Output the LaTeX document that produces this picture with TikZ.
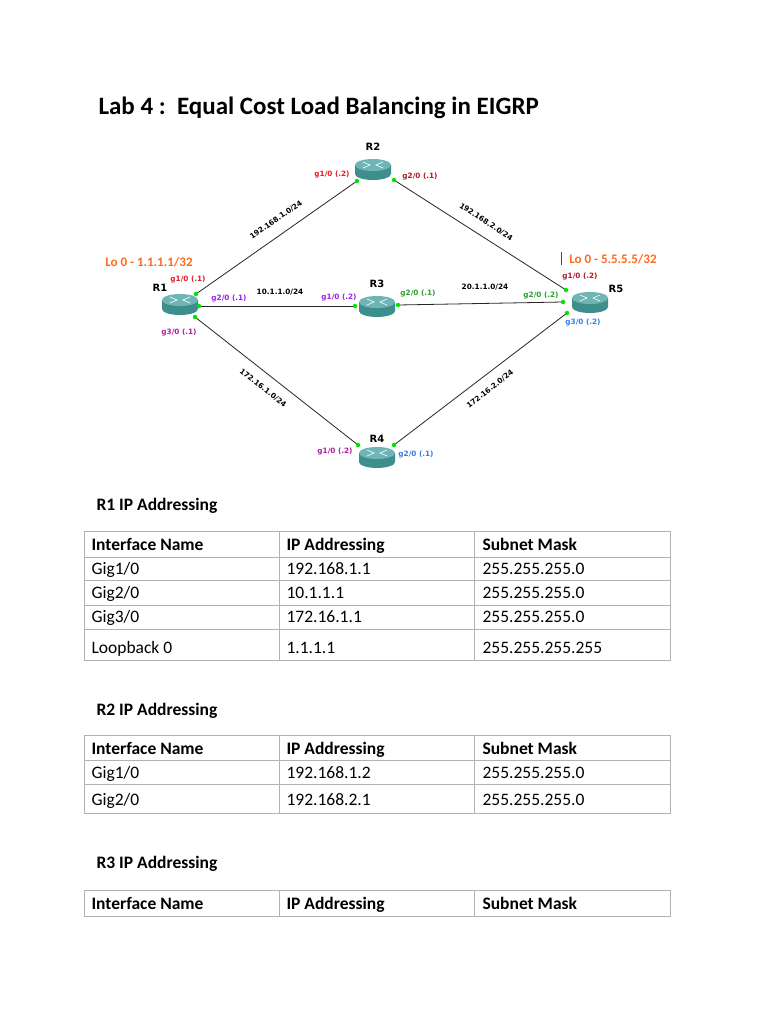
\documentclass[tikz,border=0pt]{standalone}
\usepackage{fontspec}
\setmainfont{Carlito}
\newfontfamily\dv{DejaVu Sans}
\begin{document}
\begin{tikzpicture}[x=1pt,y=-1pt,
  rt/.style={inner sep=0pt,minimum width=36pt,minimum height=22pt},
  rname/.style={font=\dv\bfseries\fontsize{10}{11}\selectfont},
  ifl/.style={font=\dv\bfseries\fontsize{7.3}{8}\selectfont,inner sep=1pt},
  net/.style={font=\dv\bfseries\fontsize{7.3}{8}\selectfont,text=black,inner sep=1pt},
  lo/.style={font=\bfseries\fontsize{13}{14}\selectfont,text=loc},
  lk/.style={black!85,line width=0.8pt},
  dot/.style={circle,fill=green!90!black,inner sep=0pt,minimum size=4.5pt},
  hd/.style={font=\bfseries\fontsize{17.5}{18}\selectfont,anchor=west},
  cell/.style={font=\fontsize{17.5}{18}\selectfont,anchor=base west},
  hcell/.style={font=\bfseries\fontsize{17.5}{18}\selectfont,anchor=base west},
  grd/.style={gray!60,line width=0.8pt}]
\definecolor{loc}{HTML}{FF6A1F}
\definecolor{ired}{HTML}{E0202A}
\definecolor{idred}{HTML}{B01C24}
\definecolor{ipur}{HTML}{A020F0}
\definecolor{imag}{HTML}{B0209A}
\definecolor{igrn}{HTML}{2CA02C}
\definecolor{iblu}{HTML}{2F7FEF}
\definecolor{teal1}{HTML}{3E8E8E}
\definecolor{teal2}{HTML}{6FB5B5}
\useasboundingbox (0,0) rectangle (768,1024);
\fill[white] (0,0) rectangle (768,1024);

\node[anchor=west,font=\bfseries\fontsize{25}{27}\selectfont] (title) at (95,108) {Lab 4 :\ \ Equal Cost Load Balancing in EIGRP};

\newcommand{\router}[2]{%
 \node[rt] (#1) at (#2) {};
 \begin{scope}[shift={(#2)}]
 \fill[teal1] (-18,-4) -- (-18,5) arc[start angle=180,end angle=0,x radius=18,y radius=6] -- (18,-4) -- cycle;
 \fill[teal2] (0,-4) ellipse[x radius=18,y radius=6];
 \draw[white,line width=0.6pt] (-10,-7) -- (-3,-4) -- (-10,-1) (10,-7) -- (3,-4) -- (10,-1);
 \end{scope}}

% links
\coordinate (p1a) at (196,294); \coordinate (p1b) at (199,306); \coordinate (p1c) at (195,317);
\coordinate (p2a) at (357,181); \coordinate (p2b) at (394,180);
\coordinate (p3a) at (355,306); \coordinate (p3b) at (398,305);
\coordinate (p4a) at (358,445); \coordinate (p4b) at (394,445);
\coordinate (p5a) at (566,290); \coordinate (p5b) at (563,302); \coordinate (p5c) at (567,313);
\draw[lk] (p1a) -- (p2a);
\draw[lk] (p2b) -- (p5a);
\draw[lk] (p1b) -- (p3a);
\draw[lk] (p3b) -- (p5b);
\draw[lk] (p1c) -- (p4a);
\draw[lk] (p4b) -- (p5c);

\router{R1}{180,304}
\router{R2}{373,169}
\router{R3}{377,306}
\router{R4}{377,457}
\router{R5}{590,302}

\foreach \p in {p1a,p1b,p1c,p2a,p2b,p3a,p3b,p4a,p4b,p5a,p5b,p5c} \node[dot] at (\p) {};

\node[rname] (n1) at (160,288) {R1};
\node[rname] (n2) at (373,147) {R2};
\node[rname] (n3) at (377,284) {R3};
\node[rname] (n4) at (377,439) {R4};
\node[rname] (n5) at (616,289) {R5};

\node[ifl,text=ired] (l1a) at (188,280) {g1/0 (.1)};
\node[ifl,text=ipur] (l1b) at (229,299) {g2/0 (.1)};
\node[ifl,text=imag] (l1c) at (179,333) {g3/0 (.1)};
\node[ifl,text=ired] (l2a) at (332,175) {g1/0 (.2)};
\node[ifl,text=idred] (l2b) at (420,177) {g2/0 (.1)};
\node[ifl,text=ipur] (l3a) at (339,298) {g1/0 (.2)};
\node[ifl,text=igrn] (l3b) at (418,294) {g2/0 (.1)};
\node[ifl,text=idred] (l5a) at (580,277) {g1/0 (.2)};
\node[ifl,text=igrn] (l5b) at (541,296) {g2/0 (.2)};
\node[ifl,text=iblu] (l5c) at (583,323) {g3/0 (.2)};
\node[ifl,text=imag] (l4a) at (335,452) {g1/0 (.2)};
\node[ifl,text=iblu] (l4b) at (416,455) {g2/0 (.1)};

\node[lo] (lo1) at (149,262) {Lo 0 - 1.1.1.1/32};
\node[lo] (lo5) at (613,259) {Lo 0 - 5.5.5.5/32};
\draw[black!70,line width=0.8pt] (561,252) -- (561,265);

\node[net,rotate=35] (k12) at (276,220) {192.168.1.0/24};
\node[net,rotate=-33] (k25) at (486,222) {192.168.2.0/24};
\node[net] (k13) at (280,292) {10.1.1.0/24};
\node[net] (k35) at (485,287) {20.1.1.0/24};
\node[net,rotate=-38] (k14) at (263,388) {172.16.1.0/24};
\node[net,rotate=38] (k45) at (490,389) {172.16.2.0/24};

% tables
\node[hd] (h1) at (93,506) {R1 IP Addressing};
\draw[grd] (84,531) rectangle (670,660);
\foreach \y in {557,580,605,629} \draw[grd] (84,\y) -- (670,\y);
\foreach \x in {279,474} \draw[grd] (\x,531) -- (\x,660);
\node[hcell] at (88,550) {Interface Name};
\node[hcell] at (283,550) {IP Addressing};
\node[hcell] at (479,550) {Subnet Mask};
\node[cell] at (88,574) {Gig1/0}; \node[cell] at (283,574) {192.168.1.1}; \node[cell] at (479,574) {255.255.255.0};
\node[cell] at (88,598) {Gig2/0}; \node[cell] at (283,598) {10.1.1.1}; \node[cell] at (479,598) {255.255.255.0};
\node[cell] at (88,622) {Gig3/0}; \node[cell] at (283,622) {172.16.1.1}; \node[cell] at (479,622) {255.255.255.0};
\node[cell] at (88,653) {Loopback 0}; \node[cell] at (283,653) {1.1.1.1}; \node[cell] at (479,653) {255.255.255.255};

\node[hd] (h2) at (93,711) {R2 IP Addressing};
\draw[grd] (84,735) rectangle (670,813);
\foreach \y in {760,784} \draw[grd] (84,\y) -- (670,\y);
\foreach \x in {279,474} \draw[grd] (\x,735) -- (\x,813);
\node[hcell] at (88,754) {Interface Name};
\node[hcell] at (283,754) {IP Addressing};
\node[hcell] at (479,754) {Subnet Mask};
\node[cell] at (88,778) {Gig1/0}; \node[cell] at (283,778) {192.168.1.2}; \node[cell] at (479,778) {255.255.255.0};
\node[cell] at (88,805) {Gig2/0}; \node[cell] at (283,805) {192.168.2.1}; \node[cell] at (479,805) {255.255.255.0};

\node[hd] (h3) at (93,864) {R3 IP Addressing};
\draw[grd] (84,890) rectangle (670,916);
\foreach \x in {279,474} \draw[grd] (\x,890) -- (\x,916);
\node[hcell] at (88,909) {Interface Name};
\node[hcell] at (283,909) {IP Addressing};
\node[hcell] at (479,909) {Subnet Mask};
\end{tikzpicture}
\end{document}
